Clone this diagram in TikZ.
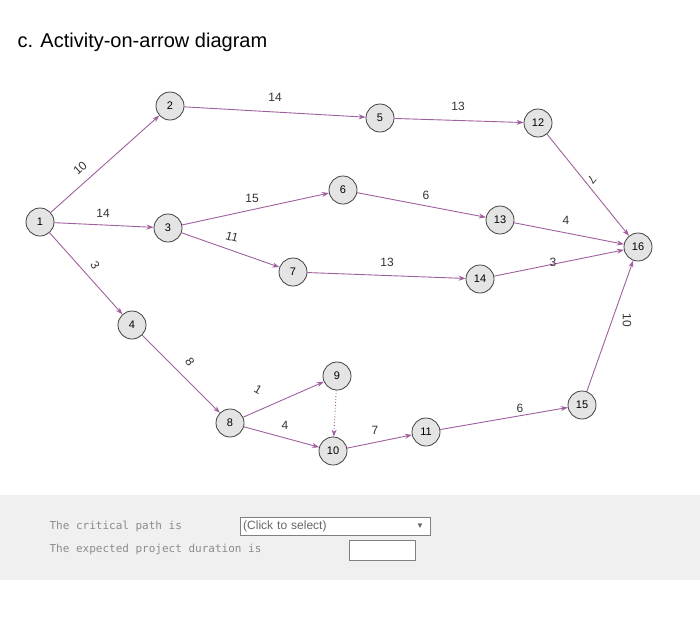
\documentclass[tikz,border=0pt]{standalone}
\usepackage{fontspec}
\setmainfont{Liberation Sans}
\setmonofont{DejaVu Sans Mono}
\usetikzlibrary{arrows.meta}
\definecolor{edgec}{HTML}{A0609E}
\definecolor{nodec}{HTML}{E4E4E4}
\begin{document}
\begin{tikzpicture}[x=1pt,y=-1pt,
  ev/.style={circle,draw=black!75,fill=nodec,thick,minimum size=28pt,inner sep=0pt,font=\fontsize{11}{11}\selectfont},
  act/.style={draw=edgec,line width=0.9pt,-{Stealth[length=7pt,width=5pt]}},
  lab/.style={font=\fontsize{12}{12}\selectfont,text=black!80}]
\fill[white] (0,0) rectangle (700,616);
\useasboundingbox (0,0) rectangle (700,616);
\fill[black!6] (0,495) rectangle (700,580);
\node[anchor=west,font=\fontsize{20}{20}\selectfont] (title) at (14,42) {c. Activity-on-arrow diagram};
\node[ev] (n1) at (40,222) {1};
\node[ev] (n2) at (170,106) {2};
\node[ev] (n3) at (168,228) {3};
\node[ev] (n4) at (132,325) {4};
\node[ev] (n5) at (380,118) {5};
\node[ev] (n6) at (343,190) {6};
\node[ev] (n7) at (293,272) {7};
\node[ev] (n8) at (230,423) {8};
\node[ev] (n9) at (337,376) {9};
\node[ev] (n10) at (333,451) {10};
\node[ev] (n11) at (426,432) {11};
\node[ev] (n12) at (538,123) {12};
\node[ev] (n13) at (500,220) {13};
\node[ev] (n14) at (480,279) {14};
\node[ev] (n15) at (582,405) {15};
\node[ev] (n16) at (638,247) {16};
\draw[act] (n1)--(n2); \node[lab,rotate=42] (l12) at (80,168) {10};
\draw[act] (n1)--(n3); \node[lab] (l13) at (103,213) {14};
\draw[act] (n1)--(n4); \node[lab,rotate=-60] (l14) at (95,265) {3};
\draw[act] (n2)--(n5); \node[lab] (l25) at (275,97) {14};
\draw[act] (n5)--(n12); \node[lab] (l512) at (458,106) {13};
\draw[act] (n3)--(n6); \node[lab] (l36) at (252,198) {15};
\draw[act] (n3)--(n7); \node[lab,rotate=-15] (l37) at (232,237) {11};
\draw[act] (n6)--(n13); \node[lab] (l613) at (426,195) {6};
\draw[act] (n7)--(n14); \node[lab] (l714) at (387,262) {13};
\draw[act] (n4)--(n8); \node[lab,rotate=-55] (l48) at (190,362) {8};
\draw[act] (n8)--(n9); \node[lab,rotate=-30] (l89) at (258,390) {1};
\draw[act] (n8)--(n10); \node[lab] (l810) at (285,425) {4};
\draw[act,dotted] (n9)--(n10);
\draw[act] (n10)--(n11); \node[lab] (l1011) at (375,430) {7};
\draw[act] (n11)--(n15); \node[lab] (l1115) at (520,408) {6};
\draw[act] (n12)--(n16); \node[lab,rotate=-130] (l1216) at (592,180) {7};
\draw[act] (n13)--(n16); \node[lab] (l1316) at (566,220) {4};
\draw[act] (n14)--(n16); \node[lab] (l1416) at (553,262) {3};
\draw[act] (n15)--(n16); \node[lab,rotate=-90] (l1516) at (627,320) {10};
\node[anchor=west,font=\ttfamily\fontsize{11}{11}\selectfont,text=black!45] (t1) at (46,526) {The critical path is};
\node[draw=black!50,fill=white,anchor=west,text width=184pt,minimum height=18pt,inner sep=3pt,align=left,text=black!60,font=\fontsize{12}{12}\selectfont] (sel) at (240,526) {(Click to select)};
\node[font=\fontsize{8}{8}\selectfont,text=black!60] (arr) at (420,526) {▼};
\node[anchor=west,font=\ttfamily\fontsize{11}{11}\selectfont,text=black!45] (t2) at (46,549) {The expected project duration is};
\node[draw=black!50,fill=white,anchor=west,minimum width=66pt,minimum height=20pt] (box) at (349,550) {};
\end{tikzpicture}
\end{document}
